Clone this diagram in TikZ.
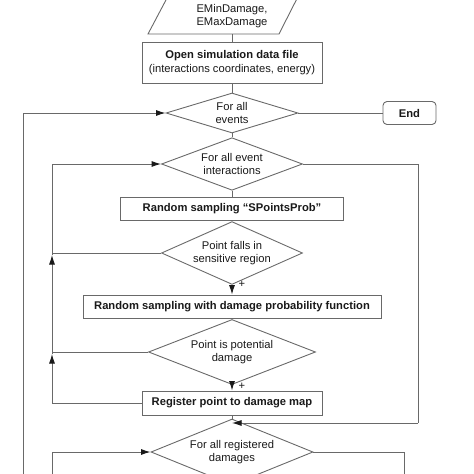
\documentclass[tikz,border=0pt]{standalone}
\usepackage{fontspec}
\setmainfont{Liberation Sans}
\usetikzlibrary{shapes.geometric,arrows.meta}
\definecolor{ln}{RGB}{105,105,105}
\definecolor{tx}{RGB}{25,25,25}
\tikzset{
  box/.style={draw=ln, line width=0.9pt, rectangle, inner sep=0pt, text=tx, align=center, font=\fontsize{11.2}{14}\selectfont},
  bbox/.style={box, font=\fontsize{11.2}{14}\selectfont\bfseries},
  dec/.style={draw=ln, line width=0.9pt, diamond, aspect=2, inner sep=0pt, text=tx, align=center, font=\fontsize{11.2}{13.5}\selectfont},
  conn/.style={draw=ln, line width=0.9pt},
  arr/.style={conn, -{Latex[length=9.5pt,width=6pt,color=tx]}},
  plus/.style={text=tx, font=\fontsize{11.2}{12}\selectfont, inner sep=0pt}
}
\begin{document}
\begin{tikzpicture}[x=1pt,y=-1pt]
\useasboundingbox (0,0) rectangle (474,474);
\clip (0,0) rectangle (474,474);
% input parallelogram
\draw[conn] (148,34) -- (279,34) -- (303.9,-15) -- (173.9,-15) -- cycle;
\node[text=tx, align=center, font=\fontsize{11.2}{12.5}\selectfont, inner sep=0pt] (inp) at (232,16) {EMinDamage,\\EMaxDamage};
\coordinate (inpb) at (232,34);
% nodes
\node[box, minimum width=180pt, minimum height=41pt] (open) at (232,62.5) {\textbf{Open simulation data file}\\(interactions coordinates, energy)};
\node[dec, minimum width=132pt, minimum height=40pt] (ev) at (232,113) {For all\\events};
\node[bbox, rounded corners=4pt, minimum width=53pt, minimum height=23pt] (end) at (409.5,113) {End};
\node[dec, minimum width=141pt, minimum height=44pt] (inter) at (232,164) {For all event\\interactions};
\node[bbox, minimum width=223pt, minimum height=23pt] (rs1) at (232,208.5) {Random sampling “SPointsProb”};
\node[dec, minimum width=141pt, minimum height=50pt] (sens) at (232,253) {Point falls in\\sensitive region};
\node[bbox, minimum width=298pt, minimum height=23pt] (rs2) at (232,306.5) {Random sampling with damage probability function};
\node[dec, minimum width=167pt, minimum height=44pt] (pot) at (232,352) {Point is potential\\damage};
\node[bbox, minimum width=180pt, minimum height=24pt] (reg) at (232,403) {Register point to damage map};
\node[dec, minimum width=162pt, minimum height=48pt] (regd) at (232,452) {For all registered\\damages};
% labels
\node[plus] (p1) at (242,284) {+};
\node[plus] (p2) at (242,386) {+};
% main flow
\draw[conn] (inpb) -- (open.north);
\draw[conn] (open.south) -- (ev.north);
\draw[conn] (ev.east) -- (end.west);
\draw[conn] (ev.south) -- (inter.north);
\draw[conn] (inter.south) -- (rs1.north);
\draw[conn] (rs1.south) -- (sens.north);
\draw[arr] (sens.south) -- (rs2.north);
\draw[conn] (rs2.south) -- (pot.north);
\draw[arr] (pot.south) -- (reg.north);
\draw[conn] (reg.south) -- (regd.north);
% right loop of interactions
\coordinate (ir1) at (418,164);
\coordinate (ir2) at (418,423);
\coordinate (ij) at (232,423);
\draw[conn] (inter.east) -- (ir1) -- (ir2);
\draw[arr] (ir2) -- (ij);
% inner left loop
\coordinate (l1) at (52,403);
\coordinate (l2) at (52,352);
\coordinate (l2a) at (52,354);
\coordinate (l3) at (52,253);
\coordinate (l3a) at (52,255);
\coordinate (l4) at (52,164);
\draw[conn] (reg.west) -- (l1);
\draw[arr] (l1) -- (l2a);
\draw[conn] (pot.west) -- (l2) -- (l2a);
\draw[arr] (l2) -- (l3a);
\draw[conn] (sens.west) -- (l3) -- (l3a);
\draw[conn] (l3) -- (l4);
\draw[arr] (l4) -- (inter.west);
% bottom loops
\coordinate (b1) at (52,480);
\coordinate (b2) at (52,452);
\draw[conn] (b1) -- (b2);
\draw[arr] (b2) -- (regd.west);
\coordinate (b3) at (404,452);
\coordinate (b4) at (404,480);
\draw[conn] (regd.east) -- (b3) -- (b4);
% outer loop
\coordinate (o1) at (23,480);
\coordinate (o2) at (23,113);
\draw[conn] (o1) -- (o2);
\draw[arr] (o2) -- (ev.west);
\end{tikzpicture}
\end{document}
